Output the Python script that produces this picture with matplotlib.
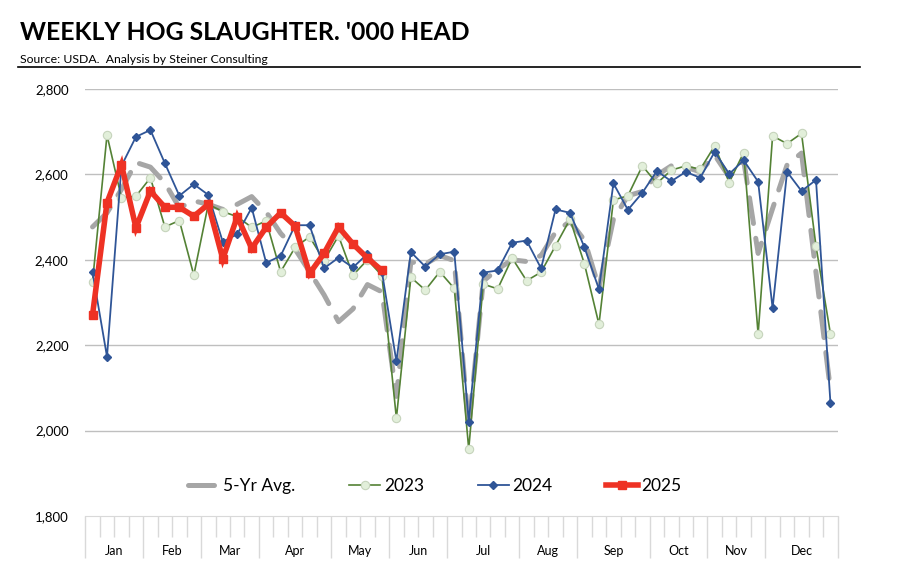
#!/usr/bin/env python3
# -*- coding: utf-8 -*-
"""
Weekly hog slaughter chart, 5-yr avg vs 2023 / 2024 / 2025
"""

# %% 1. Libraries
# ----------------------------------------------------------------------------
import matplotlib.pyplot as plt
import matplotlib.transforms as mtransforms
from matplotlib.lines import Line2D

plt.rcParams['font.family'] = ['Lato', 'DejaVu Sans']

# %% 2. Data ('000 head)
# ----------------------------------------------------------------------------
months = ['Jan', 'Feb', 'Mar', 'Apr', 'May', 'Jun',
          'Jul', 'Aug', 'Sep', 'Oct', 'Nov', 'Dec']
weeks_per_month = [4, 4, 4, 5, 4, 4, 5, 4, 5, 4, 4, 5]

avg_5yr = [2477, 2510, 2565, 2628, 2617, 2580, 2522, 2538, 2530, 2518,
           2530, 2548, 2512, 2462, 2425, 2372, 2318, 2255, 2285, 2342,
           2325, 2080, 2395, 2390, 2410, 2398, 2005, 2350, 2378, 2400,
           2396, 2410, 2465, 2490, 2446, 2335, 2495, 2550, 2560, 2598,
           2620, 2617, 2606, 2645, 2594, 2633, 2415, 2520, 2622, 2650,
           2370, 2095]

hogs_2023 = [2349, 2692, 2545, 2549, 2592, 2477, 2492, 2364, 2530, 2513,
             2501, 2476, 2491, 2372, 2429, 2454, 2398, 2456, 2364, 2400,
             2363, 2029, 2359, 2329, 2372, 2333, 1957, 2343, 2332, 2404,
             2351, 2371, 2433, 2495, 2390, 2249, 2540, 2550, 2620, 2579,
             2610, 2620, 2612, 2667, 2581, 2651, 2226, 2690, 2672, 2696,
             2432, 2226]

hogs_2024 = [2371, 2173, 2620, 2688, 2704, 2626, 2550, 2577, 2552, 2442,
             2460, 2522, 2393, 2409, 2481, 2481, 2380, 2405, 2382, 2414,
             2372, 2162, 2418, 2384, 2413, 2419, 2021, 2370, 2375, 2440,
             2445, 2380, 2518, 2510, 2429, 2331, 2579, 2517, 2557, 2608,
             2584, 2606, 2592, 2653, 2601, 2633, 2583, 2287, 2606, 2561,
             2587, 2064]

hogs_2025 = [2271, 2534, 2623, 2475, 2561, 2523, 2523, 2502, 2530, 2402,
             2501, 2427, 2476, 2510, 2479, 2368, 2415, 2477, 2437, 2404,
             2375]

yticks = [1800, 2000, 2200, 2400, 2600, 2800]

# %% 3. Figure
# ----------------------------------------------------------------------------
fig = plt.figure(figsize=(9.04, 5.86), dpi=100)
ax = fig.add_axes([85.3 / 904, 1 - 516 / 586, (837.7 - 85.3) / 904, 427 / 586])

n_weeks = sum(weeks_per_month)
ax.set_xlim(-0.5, n_weeks - 0.5)
ax.set_ylim(yticks[0], yticks[-1])

# gridlines
for yv in yticks[1:]:
    ax.axhline(yv, color='#bfbfbf', lw=1.0, zorder=0)

# series
ax.plot(range(len(avg_5yr)), avg_5yr, color='#a6a6a6', lw=3.6,
        dashes=(5.2, 3.0), dash_capstyle='round', solid_capstyle='round',
        label='5-Yr Avg.', zorder=2)
ax.plot(range(len(hogs_2023)), hogs_2023, color='#548235', lw=1.2,
        marker='o', ms=6, mfc='#e2efda', mec='#c6d4bc', mew=0.8,
        label='2023', zorder=3)
ax.plot(range(len(hogs_2024)), hogs_2024, color='#2f5597', lw=1.3,
        marker='D', ms=4.2, mfc='#2f5597', mec='#2f5597',
        label='2024', zorder=4)
ax.plot(range(len(hogs_2025)), hogs_2025, color='#ee3224', lw=4.0,
        marker='s', ms=6, mfc='#ee3224', mec='#ee3224',
        solid_joinstyle='miter', label='2025', zorder=5)

# y axis
ax.set_yticks(yticks)
ax.set_yticklabels([f'{v:,}' for v in yticks], fontsize=9.5)
ax.tick_params(axis='y', length=0, pad=12)

# x axis: week ticks short, month boundaries long
bounds = [-0.5]
for w in weeks_per_month:
    bounds.append(bounds[-1] + w)
week_bounds = [b - 0.5 for b in range(n_weeks + 1)]
ax.set_xticks(bounds)
ax.set_xticks([b for b in week_bounds if b not in bounds], minor=True)
ax.set_xticklabels([])
ax.tick_params(axis='x', which='major', length=30, width=1, color='#d9d9d9')
ax.tick_params(axis='x', which='minor', length=15, width=1, color='#d9d9d9')

trans = mtransforms.blended_transform_factory(ax.transData, ax.transAxes)
for i, m in enumerate(months):
    ax.text((bounds[i] + bounds[i + 1]) / 2, -0.081, m, transform=trans,
            ha='center', va='center', fontsize=9)

for s in ['top', 'right', 'left']:
    ax.spines[s].set_visible(False)
ax.spines['bottom'].set_color('#d9d9d9')

# legend
ax.legend(loc='center', bbox_to_anchor=(0.4645, 0.07), ncol=4, frameon=False,
          fontsize=12.5, handlelength=1.8, handletextpad=0.2,
          columnspacing=3.1, numpoints=1)

# %% 4. Titles
# ----------------------------------------------------------------------------
fig.text(20 / 904, 1 - 33 / 586, "WEEKLY HOG SLAUGHTER. '000 HEAD",
         fontsize=17.8, fontweight='bold', va='center', ha='left')
fig.text(20 / 904, 1 - 59.5 / 586, 'Source: USDA.  Analysis by Steiner Consulting',
         fontsize=8.8, va='center', ha='left')
fig.add_artist(Line2D([18 / 904, 860 / 904], [1 - 67 / 586, 1 - 67 / 586],
                      color='black', lw=1.2))

fig.savefig('out.png', dpi=100)
